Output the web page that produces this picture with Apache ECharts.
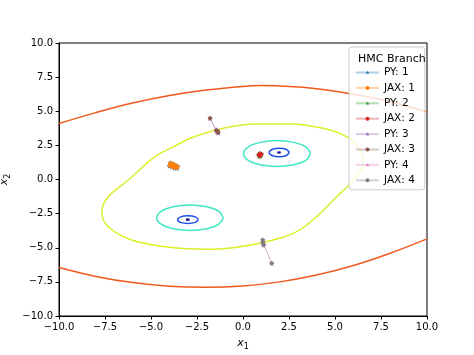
<!DOCTYPE html>
<html>
<head>
<meta charset="utf-8">
<script src="https://cdn.jsdelivr.net/npm/echarts@6/dist/echarts.min.js"></script>
<style>
  html, body { margin: 0; padding: 0; background: #fff; }
  #main { width: 474px; height: 355px; }
</style>
</head>
<body>
<div id="main"></div>
<script>
// ticks
var tickValues = [-10, -7.5, -5, -2.5, 0, 2.5, 5, 7.5, 10];

// contour lines, [x1, x2]
var orangeTop = [[-10, 4.1], [-8, 4.9], [-6, 5.6], [-4, 6.15], [-2, 6.55], [0, 6.82], [1, 6.88], [2, 6.85], [4, 6.65], [6, 6.25], [8, 5.7], [10, 4.95]];
var orangeBottom = [[-10, -6.45], [-8, -7.1], [-6, -7.55], [-4, -7.82], [-2, -7.9], [0, -7.8], [2, -7.5], [4, -7.0], [6, -6.3], [8, -5.4], [10, -4.35]];
var yellowLoop = [[-2.88, 3.02], [-1.07, 3.75], [0.74, 4.07], [2.55, 4.07], [4.36, 3.75], [5.63, 3.14], [6.3, 2.3], [6.55, 1.3], [6.2, 0.3],
  [5.7, -0.5], [5.09, -1.26], [4.0, -2.72], [2.92, -3.82], [1.65, -4.43], [-0.16, -4.92], [-1.97, -5.11], [-2.9, -5.08], [-4.24, -4.92],
  [-6.05, -4.43], [-7.32, -3.46], [-7.68, -2.36], [-7.32, -1.26], [-6.23, -0.04], [-4.78, 1.67], [-3.7, 2.45], [-2.88, 3.02]];
var cyanRight = [[3.67, 1.9], [3.43, 2.38], [2.76, 2.72], [1.85, 2.85], [0.94, 2.72], [0.27, 2.38], [0.03, 1.9], [0.27, 1.42], [0.94, 1.08], [1.85, 0.95], [2.76, 1.08], [3.43, 1.42], [3.67, 1.9]];
var cyanLeft = [[-1.07, -2.8], [-1.31, -2.33], [-1.97, -1.99], [-2.88, -1.86], [-3.79, -1.99], [-4.45, -2.33], [-4.69, -2.8], [-4.45, -3.27], [-3.79, -3.61], [-2.88, -3.74], [-1.97, -3.61], [-1.31, -3.27], [-1.07, -2.8]];
var blueRight = [[2.52, 1.98], [2.36, 2.2], [1.97, 2.29], [1.58, 2.2], [1.42, 1.98], [1.58, 1.76], [1.97, 1.67], [2.36, 1.76], [2.52, 1.98]];
var blueLeft = [[-2.43, -2.94], [-2.59, -2.74], [-2.99, -2.66], [-3.39, -2.74], [-3.55, -2.94], [-3.39, -3.14], [-2.99, -3.22], [-2.59, -3.14], [-2.43, -2.94]];
var navyRight = [[2.05, 1.98], [1.97, 2.02], [1.89, 1.98], [1.97, 1.94], [2.05, 1.98]];
var navyLeft = [[-2.91, -2.94], [-2.99, -2.9], [-3.07, -2.94], [-2.99, -2.98], [-2.91, -2.94]];

// HMC branches
var branch1 = [[-3.95, 1.2], [-3.85, 1.15], [-3.75, 1.1], [-3.65, 1.02], [-3.55, 0.95], [-3.7, 0.85], [-3.85, 0.92], [-4.0, 1.0], [-3.8, 1.0], [-3.6, 0.85]];
var branch2 = [[0.85, 1.8], [0.95, 1.75], [0.9, 1.7], [1.0, 1.85], [0.92, 1.9]];
var branch3 = [[-1.79, 4.48], [-1.45, 3.6], [-1.4, 3.5], [-1.35, 3.42], [-1.38, 3.55]];
var branch4 = [[1.07, -4.43], [1.08, -4.55], [1.1, -4.7], [1.12, -4.8], [1.56, -6.14]];

var legendNames = ['PY: 1', 'JAX: 1', 'PY: 2', 'JAX: 2', 'PY: 3', 'JAX: 3', 'PY: 4', 'JAX: 4'];
var colors = ['#1f77b4', '#ff7f0e', '#2ca02c', '#d62728', '#9467bd', '#8c564b', '#e377c2', '#7f7f7f'];
var branches = [branch1, branch2, branch3, branch4];

var star = 'path://M0,-10L2.35,-3.24L9.51,-3.09L3.8,1.24L5.88,8.09L0,4L-5.88,8.09L-3.8,1.24L-9.51,-3.09L-2.35,-3.24Z';

function fmt(v) { return v.toFixed(1).replace('-', '\u2212'); }

function contour(data, color) {
    return {
        type: 'line', data: data, smooth: 0.4, showSymbol: false, silent: true,
        lineStyle: { color: color, width: 1.5 }, z: 1
    };
}

var series = [
    contour(orangeTop, '#f05a1e'), contour(orangeBottom, '#f05a1e'),
    contour(yellowLoop, '#dcef2a'),
    contour(cyanRight, '#3ee8c4'), contour(cyanLeft, '#3ee8c4'),
    contour(blueRight, '#1e50e6'), contour(blueLeft, '#1e50e6'),
    contour(navyRight, '#10108a'), contour(navyLeft, '#10108a')
];

legendNames.forEach(function (name, i) {
    var py = i % 2 === 0;
    series.push({
        name: name, type: 'line', data: branches[Math.floor(i / 2)],
        symbol: py ? star : 'circle', symbolSize: py ? 6 : 4,
        itemStyle: { color: colors[i] },
        lineStyle: { color: colors[i], width: 1, opacity: 0.35 },
        z: 3 + i
    });
});

var myChart = echarts.init(document.getElementById('main'));
var axisCommon = {
    type: 'value', min: -10, max: 10, interval: 2.5,
    axisLine: { onZero: false, lineStyle: { color: '#000', width: 1 } },
    axisTick: { inside: false, length: 3.5, lineStyle: { color: '#000' } },
    axisLabel: { formatter: fmt, color: '#000', fontSize: 10, fontFamily: 'DejaVu Sans', margin: 6 },
    splitLine: { show: false },
    nameLocation: 'middle'
};
var nameRich = {
    i: { fontStyle: 'italic', fontSize: 11, fontFamily: 'DejaVu Sans', color: '#000', lineHeight: 14, verticalAlign: 'bottom' },
    s: { fontSize: 8, fontFamily: 'DejaVu Sans', color: '#000', lineHeight: 14, verticalAlign: 'bottom', padding: [0, 0, -2, 0] }
};

myChart.setOption({
    animation: false,
    textStyle: { fontFamily: 'DejaVu Sans' },
    grid: {
        left: 59, right: 47, top: 43, bottom: 39, outerBoundsMode: 'none', containLabel: false,
        show: true, borderColor: '#000', borderWidth: 1
    },
    title: {
        text: 'HMC Branch', left: 353, top: 49, z: 10,
        textStyle: { fontSize: 11, fontWeight: 'normal', color: '#000', fontFamily: 'DejaVu Sans' }
    },
    legend: {
        data: legendNames, orient: 'vertical', left: 349, top: 47,
        padding: [20, 10, 4, 6], itemWidth: 23, itemHeight: 5, itemGap: 4.4,
        backgroundColor: 'rgba(255,255,255,0.8)', borderColor: '#cccccc', borderWidth: 1, borderRadius: 3,
        textStyle: { fontSize: 10.5, color: '#000', fontFamily: 'DejaVu Sans', lineHeight: 10 },
        selectedMode: false
    },
    xAxis: Object.assign({}, axisCommon, { name: '{i|x}{s|1}', nameGap: 19, nameTextStyle: { rich: nameRich } }),
    yAxis: Object.assign({}, axisCommon, { name: '{i|x}{s|2}', nameGap: 40, nameTextStyle: { rich: nameRich } }),
    series: series
});
window.onresize = myChart.resize;
</script>
</body>
</html>
